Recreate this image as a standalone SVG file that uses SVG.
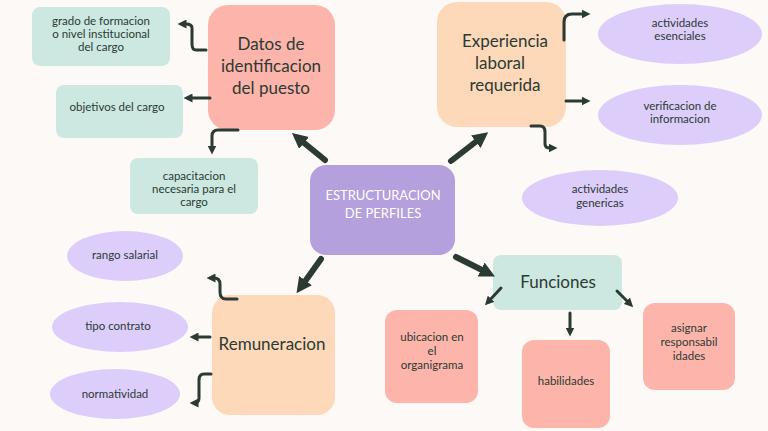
<svg xmlns="http://www.w3.org/2000/svg" width="768" height="431" viewBox="0 0 768 431">
<style>
text{font-family:Lato,"Open Sans",sans-serif;fill:#2b3a33;text-anchor:middle}
.s{font-size:11.5px}
.b{font-size:17px}
.c{stroke:#2b3a33;fill:none;stroke-width:3;stroke-linecap:round;stroke-linejoin:round}
.k{stroke:#2b3a33;fill:none;stroke-width:6;stroke-linecap:round}
.t{fill:#cde8e1}.p{fill:#fdb5ab}.o{fill:#fdd9ba}.l{fill:#ddcdfb}
</style>
<defs>
<marker id="a" viewBox="0 0 10 10" refX="5" refY="5" markerWidth="3" markerHeight="3" orient="auto"><path d="M0,0L10,5L0,10z" fill="#2b3a33"/></marker>
<marker id="A" viewBox="0 0 10 10" refX="5" refY="5" markerWidth="2.6" markerHeight="2.6" orient="auto"><path d="M0,0L10,5L0,10z" fill="#2b3a33"/></marker>
</defs>
<rect width="768" height="431" fill="#fdf9f6"/>
<g id="datos"><rect class="p" x="208" y="5" width="127" height="125" rx="20"/><text class="b" x="271" y="50">Datos de</text><text class="b" x="271" y="72">identificacion</text><text class="b" x="271" y="94">del puesto</text></g>
<g id="grado"><rect class="t" x="32" y="7" width="138" height="59" rx="8"/><text class="s" x="101" y="25">grado de formacion</text><text class="s" x="101" y="38">o nivel institucional</text><text class="s" x="101" y="51">del cargo</text></g>
<g id="objetivos"><rect class="t" x="56" y="85" width="127" height="53" rx="8"/><text class="s" x="117" y="111">objetivos del cargo</text></g>
<g id="capacitacion"><rect class="t" x="130" y="158" width="128" height="56" rx="8"/><text class="s" x="194" y="180">capacitacion</text><text class="s" x="194" y="193">necesaria para el</text><text class="s" x="194" y="206">cargo</text></g>
<g id="centro"><rect x="310" y="165" width="145" height="90" rx="16" fill="#b3a0dc"/><text x="383" y="200" font-size="13" style="fill:#fff">ESTRUCTURACION</text><text x="383" y="218" font-size="13" style="fill:#fff">DE PERFILES</text></g>
<g id="experiencia"><rect class="o" x="437" y="2" width="129" height="125" rx="20"/><text class="b" x="505" y="47">Experiencia</text><text class="b" x="500" y="69">laboral</text><text class="b" x="505" y="91">requerida</text></g>
<g id="esenciales"><ellipse class="l" cx="680" cy="34" rx="82" ry="30"/><text class="s" x="680" y="27">actividades</text><text class="s" x="680" y="40">esenciales</text></g>
<g id="verificacion"><ellipse class="l" cx="680" cy="115" rx="82" ry="30"/><text class="s" x="680" y="110">verificacion de</text><text class="s" x="680" y="123">informacion</text></g>
<g id="genericas"><ellipse class="l" cx="600" cy="198" rx="78" ry="28"/><text class="s" x="600" y="193">actividades</text><text class="s" x="600" y="207">genericas</text></g>
<g id="funciones"><rect class="t" x="493" y="255" width="129" height="55" rx="8"/><text class="b" x="558" y="288">Funciones</text></g>
<g id="remuneracion"><rect class="o" x="212" y="295" width="123" height="120" rx="18"/><text class="b" x="272" y="350">Remuneracion</text></g>
<g id="rango"><ellipse class="l" cx="125" cy="256" rx="58" ry="25"/><text class="s" x="125" y="259">rango salarial</text></g>
<g id="tipo"><ellipse class="l" cx="120" cy="327" rx="68" ry="25"/><text class="s" x="118" y="330">tipo contrato</text></g>
<g id="normatividad"><ellipse class="l" cx="115" cy="394" rx="65" ry="25"/><text class="s" x="115" y="398">normatividad</text></g>
<g id="ubicacion"><rect class="p" x="385" y="310" width="93" height="93" rx="12"/><text class="s" x="432" y="341">ubicacion en</text><text class="s" x="432" y="355">el</text><text class="s" x="432" y="369">organigrama</text></g>
<g id="habilidades"><rect class="p" x="522" y="340" width="88" height="88" rx="12"/><text class="s" x="566" y="385">habilidades</text></g>
<g id="asignar"><rect class="p" x="643" y="303" width="92" height="87" rx="12"/><text class="s" x="689" y="332">asignar</text><text class="s" x="689" y="346">responsabil</text><text class="s" x="689" y="360">idades</text></g>
<g id="conectores">
<path class="k" d="M325,160L298,138" marker-end="url(#A)"/>
<path class="k" d="M451,161L482,137" marker-end="url(#A)"/>
<path class="k" d="M321,259L301,287" marker-end="url(#A)"/>
<path class="k" d="M456,257L488,273" marker-end="url(#A)"/>
<path class="c" d="M206,50L196,50Q192,50 192,44L192,28Q192,24 186,24L182,24" marker-end="url(#a)"/>
<path class="c" d="M210,98L188,98" marker-end="url(#a)"/>
<path class="c" d="M238,130L218,130Q212,130 212,136L212,150" marker-end="url(#a)"/>
<path class="c" d="M564,40L564,22Q564,14 572,14L586,14" marker-end="url(#a)"/>
<path class="c" d="M566,101L586,101" marker-end="url(#a)"/>
<path class="c" d="M531,126L540,126Q545,126 545,132L545,144Q545,148 550,148L553,148" marker-end="url(#a)"/>
<path class="c" d="M237,299L226,299Q220,299 220,292L220,284Q220,278 214,278L211,278" marker-end="url(#a)"/>
<path class="c" d="M210,337L194,337" marker-end="url(#a)"/>
<path class="c" d="M211,374L204,374Q199,374 199,380L199,398Q199,403 194,403" marker-end="url(#a)"/>
<path class="c" d="M501,288L488,302" marker-end="url(#a)"/>
<path class="c" d="M570,313L570,332" marker-end="url(#a)"/>
<path class="c" d="M617,291L630,304" marker-end="url(#a)"/>
</g>
</svg>
